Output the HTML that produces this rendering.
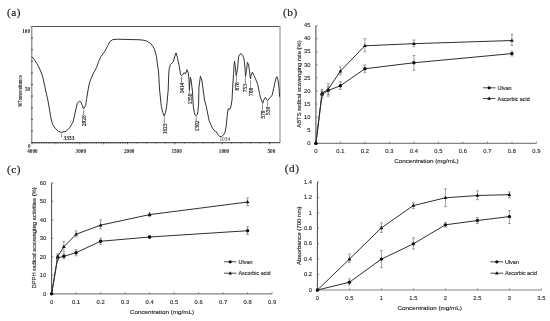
<!DOCTYPE html>
<html><head><meta charset="utf-8"><title>Figure</title>
<style>html,body{margin:0;padding:0;background:#fff;}body{width:550px;height:321px;overflow:hidden;}svg{display:block;}</style>
</head><body>
<svg width="550" height="321" viewBox="0 0 550 321">
<rect width="550" height="321" fill="#fff"/>
<text x="6.9" y="15.6" font-size="11.2" text-anchor="start" font-family="'Liberation Serif', 'Times New Roman', serif" fill="#222" stroke="#222" stroke-width="0.2" letter-spacing="0.6">(a)</text>
<text x="283" y="15.8" font-size="11.2" text-anchor="start" font-family="'Liberation Serif', 'Times New Roman', serif" fill="#222" stroke="#222" stroke-width="0.2" letter-spacing="0.6">(b)</text>
<text x="6.9" y="172.5" font-size="11.2" text-anchor="start" font-family="'Liberation Serif', 'Times New Roman', serif" fill="#222" stroke="#222" stroke-width="0.2" letter-spacing="0.6">(c)</text>
<text x="284.8" y="171.8" font-size="11.2" text-anchor="start" font-family="'Liberation Serif', 'Times New Roman', serif" fill="#222" stroke="#222" stroke-width="0.2" letter-spacing="0.6">(d)</text>
<path d="M30.5 26.5H280" stroke="#555" stroke-width="1.1" fill="none"/>
<path d="M280 26V143" stroke="#aaa" stroke-width="1.4" fill="none"/>
<path d="M31.7 26V143" stroke="#999" stroke-width="1.5" fill="none"/>
<path d="M31 142.6H280" stroke="#555" stroke-width="1.1" fill="none"/>
<path d="M31.2 38.1h1.8 M31.2 49.7h1.8 M31.2 61.3h1.8 M31.2 72.9h1.8 M31.2 84.5h1.8 M31.2 96.1h1.8 M31.2 107.7h1.8 M31.2 119.3h1.8 M31.2 130.9h1.8" stroke="#333" stroke-width="0.8" fill="none"/>
<path d="M32 142.6v1.7 M34.39 142.6v0.9 M36.78 142.6v0.9 M39.17 142.6v0.9 M41.56 142.6v0.9 M43.95 142.6v0.9 M46.34 142.6v0.9 M48.73 142.6v0.9 M51.12 142.6v0.9 M53.51 142.6v0.9 M55.9 142.6v1.7 M58.29 142.6v0.9 M60.68 142.6v0.9 M63.07 142.6v0.9 M65.46 142.6v0.9 M67.85 142.6v0.9 M70.24 142.6v0.9 M72.63 142.6v0.9 M75.02 142.6v0.9 M77.41 142.6v0.9 M79.8 142.6v1.7 M82.19 142.6v0.9 M84.58 142.6v0.9 M86.97 142.6v0.9 M89.36 142.6v0.9 M91.75 142.6v0.9 M94.14 142.6v0.9 M96.53 142.6v0.9 M98.92 142.6v0.9 M101.31 142.6v0.9 M103.7 142.6v1.7 M106.09 142.6v0.9 M108.48 142.6v0.9 M110.87 142.6v0.9 M113.26 142.6v0.9 M115.65 142.6v0.9 M118.04 142.6v0.9 M120.43 142.6v0.9 M122.82 142.6v0.9 M125.21 142.6v0.9 M127.6 142.6v1.7 M137.06 142.6v0.9 M146.52 142.6v0.9 M155.98 142.6v0.9 M165.44 142.6v0.9 M174.9 142.6v1.7 M184.36 142.6v0.9 M193.82 142.6v0.9 M203.28 142.6v0.9 M212.74 142.6v0.9 M222.2 142.6v1.7 M231.66 142.6v0.9 M241.12 142.6v0.9 M250.58 142.6v0.9 M260.04 142.6v0.9 M269.5 142.6v1.7" stroke="#333" stroke-width="0.8" fill="none"/>
<text x="30" y="32.8" font-size="5.2" text-anchor="end" font-family="'Liberation Serif', 'Times New Roman', serif" fill="#222" font-weight="bold" >100</text>
<text x="30.2" y="90.5" font-size="5.2" text-anchor="end" font-family="'Liberation Serif', 'Times New Roman', serif" fill="#222" font-weight="bold" >50</text>
<text x="30.6" y="148.4" font-size="5.2" text-anchor="end" font-family="'Liberation Serif', 'Times New Roman', serif" fill="#222" font-weight="bold" >0</text>
<text x="32.4" y="152.6" font-size="5.2" text-anchor="middle" font-family="'Liberation Serif', 'Times New Roman', serif" fill="#222" font-weight="bold" >4000</text>
<text x="80.8" y="152.6" font-size="5.2" text-anchor="middle" font-family="'Liberation Serif', 'Times New Roman', serif" fill="#222" font-weight="bold" >3000</text>
<text x="129.2" y="152.6" font-size="5.2" text-anchor="middle" font-family="'Liberation Serif', 'Times New Roman', serif" fill="#222" font-weight="bold" >2000</text>
<text x="176.6" y="152.6" font-size="5.2" text-anchor="middle" font-family="'Liberation Serif', 'Times New Roman', serif" fill="#222" font-weight="bold" >1500</text>
<text x="224" y="152.6" font-size="5.2" text-anchor="middle" font-family="'Liberation Serif', 'Times New Roman', serif" fill="#222" font-weight="bold" >1000</text>
<text x="271.4" y="152.6" font-size="5.2" text-anchor="middle" font-family="'Liberation Serif', 'Times New Roman', serif" fill="#222" font-weight="bold" >500</text>
<text x="22.1" y="90.9" font-size="4.6" text-anchor="middle" font-family="'Liberation Sans', Arial, sans-serif" fill="#222" stroke="#222" stroke-width="0.1" textLength="31.9" lengthAdjust="spacingAndGlyphs" transform="rotate(-90 22.1 90.9)" >%Transmittance</text>
<path d="M32 56.8 L34 59.2 L37 63.8 L40 69.5 L42.5 76 L44.3 84 L46 92 L48 101 L49.6 110 L51.3 120 L52.6 124.5 L55.1 128.2 L58.4 131.4 L61.6 132.4 L66 131.3 L69.8 127.5 L73 122 L75.2 112.5 L77.2 103.6 L78.3 101.8 L79.5 101.2 L80.8 101.8 L82.4 105.6 L83.5 109 L85.6 105.6 L86.7 98.5 L87.9 90.9 L89.2 84 L90.6 79.5 L93.5 73 L96.5 67.6 L98.6 61.5 L101 56.5 L105.2 50.7 L107.9 45.3 L110 41.5 L112.8 39.6 L118 39.2 L128 39.5 L138 39.7 L143 40.1 L146.5 40.9 L150.9 43.6 L154.2 48.5 L156.4 56.2 L157.5 65 L158.5 71 L159.6 90 L161.3 106.4 L162.8 112.5 L164.2 116.2 L165.5 112.5 L166.7 106.4 L168.2 90 L168.7 75 L169.2 68.5 L170.5 64.4 L173.3 61.6 L174.6 57 L176 52.9 L177.4 57.5 L178.3 62 L179.3 66.5 L180.5 74.3 L181.5 75.9 L184.3 72.6 L185.4 74 L187 69.6 L188.4 73.2 L189 80 L189.4 90.5 L189.8 84 L190.5 77.4 L191.4 82 L192.5 92 L193.3 106.5 L194.3 112.8 L195.3 115.2 L196.4 115.5 L197.3 114.5 L197.9 111.5 L198.6 104 L198.9 88 L200.4 76.2 L201.8 80 L203.2 90 L204.5 100 L206.4 107 L209.1 120.7 L211.8 127 L214.2 130.6 L215.3 131.2 L216.3 131.6 L217.8 134.4 L219.6 136.4 L221.5 136.5 L223.2 135.3 L224.9 132.8 L226.2 126 L227.4 114 L228.2 108.7 L229.8 109.3 L230.9 106.5 L232 100 L232.8 85 L233.6 73.3 L234 66 L234.5 61.2 L235.4 67.3 L236.2 75.5 L237.5 69.5 L238.1 62 L238.6 56.8 L239.6 54.6 L241.1 53.5 L242.7 55.5 L243.8 58.2 L244.4 62 L244.9 67 L245.5 76.5 L246.5 70.5 L247.4 62.3 L248.7 65 L249.6 72 L250.4 79 L251.2 75 L252.3 72.2 L254 75.5 L256.4 81 L257.8 84.5 L259.5 93.5 L261 99 L262.7 103.4 L264.2 99 L265.5 97.4 L266.6 99.5 L267.6 100.6 L269.5 98 L272 95.7 L273.6 89 L274.7 83.7 L276 78 L276.9 76.6 L278 80 L279 88 L279.6 96.8" stroke="#333" stroke-width="1" fill="none" stroke-linejoin="round"/>
<path d="M61.6 133.4V137.8 M83.6 110.2V115.5 M164.3 117.2V123.6 M181.5 76.8V82.8 M189.5 91.2V93.8 M196.2 116.2V121 M236.4 76V82 M245.4 77.5V84.2 M250.6 80.2V88 M262.5 104.2V110.4 M267.6 101.4V106.6" stroke="#444" stroke-width="0.6" fill="none"/>
<text x="63.6" y="139.9" font-size="5.4" text-anchor="start" font-family="'Liberation Serif', 'Times New Roman', serif" fill="#000" font-weight="bold" >3353</text>
<text x="219.4" y="141.4" font-size="5.4" text-anchor="start" font-family="'Liberation Serif', 'Times New Roman', serif" fill="#333" >1034</text>
<text x="85.8" y="120.8" font-size="5.4" text-anchor="middle" font-family="'Liberation Serif', 'Times New Roman', serif" fill="#111" stroke="#111" stroke-width="0.15" transform="rotate(-90 85.8 120.8)" >2926</text>
<text x="166.7" y="128.9" font-size="5.4" text-anchor="middle" font-family="'Liberation Serif', 'Times New Roman', serif" fill="#111" stroke="#111" stroke-width="0.15" transform="rotate(-90 166.7 128.9)" >1623</text>
<text x="183.7" y="88.1" font-size="5.4" text-anchor="middle" font-family="'Liberation Serif', 'Times New Roman', serif" fill="#111" stroke="#111" stroke-width="0.15" transform="rotate(-90 183.7 88.1)" >1414</text>
<text x="191.8" y="99" font-size="5.4" text-anchor="middle" font-family="'Liberation Serif', 'Times New Roman', serif" fill="#111" stroke="#111" stroke-width="0.15" transform="rotate(-90 191.8 99)" >1356</text>
<text x="198.8" y="126.1" font-size="5.4" text-anchor="middle" font-family="'Liberation Serif', 'Times New Roman', serif" fill="#111" stroke="#111" stroke-width="0.15" transform="rotate(-90 198.8 126.1)" >1302</text>
<text x="238.7" y="86.4" font-size="5.4" text-anchor="middle" font-family="'Liberation Serif', 'Times New Roman', serif" fill="#111" stroke="#111" stroke-width="0.15" transform="rotate(-90 238.7 86.4)" >878</text>
<text x="247.5" y="88.1" font-size="5.4" text-anchor="middle" font-family="'Liberation Serif', 'Times New Roman', serif" fill="#111" stroke="#111" stroke-width="0.15" transform="rotate(-90 247.5 88.1)" >753</text>
<text x="252.9" y="91.9" font-size="5.4" text-anchor="middle" font-family="'Liberation Serif', 'Times New Roman', serif" fill="#111" stroke="#111" stroke-width="0.15" transform="rotate(-90 252.9 91.9)" >708</text>
<text x="264.5" y="114.5" font-size="5.4" text-anchor="middle" font-family="'Liberation Serif', 'Times New Roman', serif" fill="#111" stroke="#111" stroke-width="0.15" transform="rotate(-90 264.5 114.5)" >579</text>
<text x="269.9" y="110.9" font-size="5.4" text-anchor="middle" font-family="'Liberation Serif', 'Times New Roman', serif" fill="#111" stroke="#111" stroke-width="0.15" transform="rotate(-90 269.9 110.9)" >530</text>
<path d="M315.9 143.3H536.4" stroke="#858585" stroke-width="1.2" fill="none"/>
<path d="M315.9 25.62V143.3" stroke="#484848" stroke-width="1" fill="none"/>
<path d="M315.9 143.3h1.6 M315.9 130.23h1.6 M315.9 117.15h1.6 M315.9 104.08h1.6 M315.9 91h1.6 M315.9 77.93h1.6 M315.9 64.85h1.6 M315.9 51.78h1.6 M315.9 38.7h1.6 M315.9 25.62h1.6 M315.9 143.3v-1.6 M340.4 143.3v-1.6 M364.9 143.3v-1.6 M389.4 143.3v-1.6 M413.9 143.3v-1.6 M438.4 143.3v-1.6 M462.9 143.3v-1.6 M487.4 143.3v-1.6 M511.9 143.3v-1.6 M536.4 143.3v-1.6" stroke="#666" stroke-width="0.8" fill="none"/>
<text x="310.5" y="145" font-size="5.8" text-anchor="end" font-family="'Liberation Sans', Arial, sans-serif" fill="#2a2a2a" stroke="#2a2a2a" stroke-width="0.12" >0</text>
<text x="310.5" y="131.93" font-size="5.8" text-anchor="end" font-family="'Liberation Sans', Arial, sans-serif" fill="#2a2a2a" stroke="#2a2a2a" stroke-width="0.12" >5</text>
<text x="310.5" y="118.85" font-size="5.8" text-anchor="end" font-family="'Liberation Sans', Arial, sans-serif" fill="#2a2a2a" stroke="#2a2a2a" stroke-width="0.12" >10</text>
<text x="310.5" y="105.78" font-size="5.8" text-anchor="end" font-family="'Liberation Sans', Arial, sans-serif" fill="#2a2a2a" stroke="#2a2a2a" stroke-width="0.12" >15</text>
<text x="310.5" y="92.7" font-size="5.8" text-anchor="end" font-family="'Liberation Sans', Arial, sans-serif" fill="#2a2a2a" stroke="#2a2a2a" stroke-width="0.12" >20</text>
<text x="310.5" y="79.63" font-size="5.8" text-anchor="end" font-family="'Liberation Sans', Arial, sans-serif" fill="#2a2a2a" stroke="#2a2a2a" stroke-width="0.12" >25</text>
<text x="310.5" y="66.55" font-size="5.8" text-anchor="end" font-family="'Liberation Sans', Arial, sans-serif" fill="#2a2a2a" stroke="#2a2a2a" stroke-width="0.12" >30</text>
<text x="310.5" y="53.48" font-size="5.8" text-anchor="end" font-family="'Liberation Sans', Arial, sans-serif" fill="#2a2a2a" stroke="#2a2a2a" stroke-width="0.12" >35</text>
<text x="310.5" y="40.4" font-size="5.8" text-anchor="end" font-family="'Liberation Sans', Arial, sans-serif" fill="#2a2a2a" stroke="#2a2a2a" stroke-width="0.12" >40</text>
<text x="310.5" y="27.32" font-size="5.8" text-anchor="end" font-family="'Liberation Sans', Arial, sans-serif" fill="#2a2a2a" stroke="#2a2a2a" stroke-width="0.12" >45</text>
<text x="315.9" y="153.1" font-size="5.8" text-anchor="middle" font-family="'Liberation Sans', Arial, sans-serif" fill="#2a2a2a" stroke="#2a2a2a" stroke-width="0.12" >0</text>
<text x="340.4" y="153.1" font-size="5.8" text-anchor="middle" font-family="'Liberation Sans', Arial, sans-serif" fill="#2a2a2a" stroke="#2a2a2a" stroke-width="0.12" >0.1</text>
<text x="364.9" y="153.1" font-size="5.8" text-anchor="middle" font-family="'Liberation Sans', Arial, sans-serif" fill="#2a2a2a" stroke="#2a2a2a" stroke-width="0.12" >0.2</text>
<text x="389.4" y="153.1" font-size="5.8" text-anchor="middle" font-family="'Liberation Sans', Arial, sans-serif" fill="#2a2a2a" stroke="#2a2a2a" stroke-width="0.12" >0.3</text>
<text x="413.9" y="153.1" font-size="5.8" text-anchor="middle" font-family="'Liberation Sans', Arial, sans-serif" fill="#2a2a2a" stroke="#2a2a2a" stroke-width="0.12" >0.4</text>
<text x="438.4" y="153.1" font-size="5.8" text-anchor="middle" font-family="'Liberation Sans', Arial, sans-serif" fill="#2a2a2a" stroke="#2a2a2a" stroke-width="0.12" >0.5</text>
<text x="462.9" y="153.1" font-size="5.8" text-anchor="middle" font-family="'Liberation Sans', Arial, sans-serif" fill="#2a2a2a" stroke="#2a2a2a" stroke-width="0.12" >0.6</text>
<text x="487.4" y="153.1" font-size="5.8" text-anchor="middle" font-family="'Liberation Sans', Arial, sans-serif" fill="#2a2a2a" stroke="#2a2a2a" stroke-width="0.12" >0.7</text>
<text x="511.9" y="153.1" font-size="5.8" text-anchor="middle" font-family="'Liberation Sans', Arial, sans-serif" fill="#2a2a2a" stroke="#2a2a2a" stroke-width="0.12" >0.8</text>
<text x="536.4" y="153.1" font-size="5.8" text-anchor="middle" font-family="'Liberation Sans', Arial, sans-serif" fill="#2a2a2a" stroke="#2a2a2a" stroke-width="0.12" >0.9</text>
<text x="300.7" y="84" font-size="5.9" text-anchor="middle" font-family="'Liberation Sans', Arial, sans-serif" fill="#222" stroke="#222" stroke-width="0.12" textLength="87.3" lengthAdjust="spacingAndGlyphs" transform="rotate(-90 300.7 84)" >ABTS radical scavenging rate (%)</text>
<text x="426.4" y="163.1" font-size="6.1" text-anchor="middle" font-family="'Liberation Sans', Arial, sans-serif" fill="#222" stroke="#222" stroke-width="0.12" textLength="64.3" lengthAdjust="spacingAndGlyphs" >Concentration (mg/mL)</text>
<path d="M315.9 143.3 L322.02 94.66 L328.15 90.48 L340.4 85.77 L364.9 68.77 L413.9 62.76 L511.9 53.61" stroke="#2e2e2e" stroke-width="1" fill="none" stroke-linejoin="round"/>
<path d="M322.02 98.32V91M320.62 98.32h2.8M320.62 91h2.8 M328.15 94.66V83.68M326.75 94.66h2.8M326.75 83.68h2.8 M340.4 89.43V81.59M339 89.43h2.8M339 81.59h2.8 M364.9 72.43V64.85M363.5 72.43h2.8M363.5 64.85h2.8 M413.9 70.34V55.44M412.5 70.34h2.8M412.5 55.44h2.8 M511.9 55.96V51.25M510.5 55.96h2.8M510.5 51.25h2.8" stroke="#777" stroke-width="0.7" fill="none"/>
<circle cx="315.9" cy="143.3" r="1.7" fill="#0a0a0a"/>
<circle cx="322.02" cy="94.66" r="1.7" fill="#0a0a0a"/>
<circle cx="328.15" cy="90.48" r="1.7" fill="#0a0a0a"/>
<circle cx="340.4" cy="85.77" r="1.7" fill="#0a0a0a"/>
<circle cx="364.9" cy="68.77" r="1.7" fill="#0a0a0a"/>
<circle cx="413.9" cy="62.76" r="1.7" fill="#0a0a0a"/>
<circle cx="511.9" cy="53.61" r="1.7" fill="#0a0a0a"/>
<path d="M315.9 143.3 L322.02 93.09 L328.15 89.43 L340.4 71.13 L364.9 45.76 L413.9 43.67 L511.9 40.53" stroke="#2e2e2e" stroke-width="1" fill="none" stroke-linejoin="round"/>
<path d="M322.02 96.75V89.43M320.62 96.75h2.8M320.62 89.43h2.8 M328.15 96.23V86.82M326.75 96.23h2.8M326.75 86.82h2.8 M340.4 74.79V66.94M339 74.79h2.8M339 66.94h2.8 M364.9 51.78V38.7M363.5 51.78h2.8M363.5 38.7h2.8 M413.9 46.81V40.01M412.5 46.81h2.8M412.5 40.01h2.8 M511.9 45.5V34.25M510.5 45.5h2.8M510.5 34.25h2.8" stroke="#777" stroke-width="0.7" fill="none"/>
<path d="M315.9 141.3L317.8 144.6H314Z" fill="#111"/>
<path d="M322.02 91.09L323.92 94.39H320.12Z" fill="#111"/>
<path d="M328.15 87.43L330.05 90.73H326.25Z" fill="#111"/>
<path d="M340.4 69.13L342.3 72.43H338.5Z" fill="#111"/>
<path d="M364.9 43.76L366.8 47.06H363Z" fill="#111"/>
<path d="M413.9 41.67L415.8 44.97H412Z" fill="#111"/>
<path d="M511.9 38.53L513.8 41.83H510Z" fill="#111"/>
<path d="M482.8 87.8H495.5" stroke="#3a3a3a" stroke-width="0.9"/>
<circle cx="489.15" cy="87.8" r="1.6" fill="#0a0a0a"/>
<text x="497.6" y="89.8" font-size="5.6" text-anchor="start" font-family="'Liberation Sans', Arial, sans-serif" fill="#222" stroke="#222" stroke-width="0.12" textLength="14.1" lengthAdjust="spacingAndGlyphs" >Ulvan</text>
<path d="M482.8 98.5H495.5" stroke="#3a3a3a" stroke-width="0.9"/>
<path d="M489.15 96.6L490.95 99.7H487.35Z" fill="#0a0a0a"/>
<text x="497.6" y="100.5" font-size="5.6" text-anchor="start" font-family="'Liberation Sans', Arial, sans-serif" fill="#222" stroke="#222" stroke-width="0.12" textLength="32.1" lengthAdjust="spacingAndGlyphs" >Ascorbic acid</text>
<path d="M51.6 293.8H272.1" stroke="#858585" stroke-width="1.2" fill="none"/>
<path d="M51.6 182.8V293.8" stroke="#484848" stroke-width="1" fill="none"/>
<path d="M51.6 293.8h1.6 M51.6 275.3h1.6 M51.6 256.8h1.6 M51.6 238.3h1.6 M51.6 219.8h1.6 M51.6 201.3h1.6 M51.6 182.8h1.6 M51.6 293.8v-1.6 M76.1 293.8v-1.6 M100.6 293.8v-1.6 M125.1 293.8v-1.6 M149.6 293.8v-1.6 M174.1 293.8v-1.6 M198.6 293.8v-1.6 M223.1 293.8v-1.6 M247.6 293.8v-1.6 M272.1 293.8v-1.6" stroke="#666" stroke-width="0.8" fill="none"/>
<text x="46.2" y="295.5" font-size="5.8" text-anchor="end" font-family="'Liberation Sans', Arial, sans-serif" fill="#2a2a2a" stroke="#2a2a2a" stroke-width="0.12" >0</text>
<text x="46.2" y="277" font-size="5.8" text-anchor="end" font-family="'Liberation Sans', Arial, sans-serif" fill="#2a2a2a" stroke="#2a2a2a" stroke-width="0.12" >10</text>
<text x="46.2" y="258.5" font-size="5.8" text-anchor="end" font-family="'Liberation Sans', Arial, sans-serif" fill="#2a2a2a" stroke="#2a2a2a" stroke-width="0.12" >20</text>
<text x="46.2" y="240" font-size="5.8" text-anchor="end" font-family="'Liberation Sans', Arial, sans-serif" fill="#2a2a2a" stroke="#2a2a2a" stroke-width="0.12" >30</text>
<text x="46.2" y="221.5" font-size="5.8" text-anchor="end" font-family="'Liberation Sans', Arial, sans-serif" fill="#2a2a2a" stroke="#2a2a2a" stroke-width="0.12" >40</text>
<text x="46.2" y="203" font-size="5.8" text-anchor="end" font-family="'Liberation Sans', Arial, sans-serif" fill="#2a2a2a" stroke="#2a2a2a" stroke-width="0.12" >50</text>
<text x="46.2" y="184.5" font-size="5.8" text-anchor="end" font-family="'Liberation Sans', Arial, sans-serif" fill="#2a2a2a" stroke="#2a2a2a" stroke-width="0.12" >60</text>
<text x="51.6" y="303.6" font-size="5.8" text-anchor="middle" font-family="'Liberation Sans', Arial, sans-serif" fill="#2a2a2a" stroke="#2a2a2a" stroke-width="0.12" >0</text>
<text x="76.1" y="303.6" font-size="5.8" text-anchor="middle" font-family="'Liberation Sans', Arial, sans-serif" fill="#2a2a2a" stroke="#2a2a2a" stroke-width="0.12" >0.1</text>
<text x="100.6" y="303.6" font-size="5.8" text-anchor="middle" font-family="'Liberation Sans', Arial, sans-serif" fill="#2a2a2a" stroke="#2a2a2a" stroke-width="0.12" >0.2</text>
<text x="125.1" y="303.6" font-size="5.8" text-anchor="middle" font-family="'Liberation Sans', Arial, sans-serif" fill="#2a2a2a" stroke="#2a2a2a" stroke-width="0.12" >0.3</text>
<text x="149.6" y="303.6" font-size="5.8" text-anchor="middle" font-family="'Liberation Sans', Arial, sans-serif" fill="#2a2a2a" stroke="#2a2a2a" stroke-width="0.12" >0.4</text>
<text x="174.1" y="303.6" font-size="5.8" text-anchor="middle" font-family="'Liberation Sans', Arial, sans-serif" fill="#2a2a2a" stroke="#2a2a2a" stroke-width="0.12" >0.5</text>
<text x="198.6" y="303.6" font-size="5.8" text-anchor="middle" font-family="'Liberation Sans', Arial, sans-serif" fill="#2a2a2a" stroke="#2a2a2a" stroke-width="0.12" >0.6</text>
<text x="223.1" y="303.6" font-size="5.8" text-anchor="middle" font-family="'Liberation Sans', Arial, sans-serif" fill="#2a2a2a" stroke="#2a2a2a" stroke-width="0.12" >0.7</text>
<text x="247.6" y="303.6" font-size="5.8" text-anchor="middle" font-family="'Liberation Sans', Arial, sans-serif" fill="#2a2a2a" stroke="#2a2a2a" stroke-width="0.12" >0.8</text>
<text x="272.1" y="303.6" font-size="5.8" text-anchor="middle" font-family="'Liberation Sans', Arial, sans-serif" fill="#2a2a2a" stroke="#2a2a2a" stroke-width="0.12" >0.9</text>
<text x="36.1" y="237.9" font-size="5.9" text-anchor="middle" font-family="'Liberation Sans', Arial, sans-serif" fill="#222" stroke="#222" stroke-width="0.12" textLength="101.4" lengthAdjust="spacingAndGlyphs" transform="rotate(-90 36.1 237.9)" >DPPH radical scavenging activities (%)</text>
<text x="162" y="313.5" font-size="6.1" text-anchor="middle" font-family="'Liberation Sans', Arial, sans-serif" fill="#222" stroke="#222" stroke-width="0.12" textLength="64.3" lengthAdjust="spacingAndGlyphs" >Concentration (mg/mL)</text>
<path d="M51.6 293.8 L57.73 257.91 L63.85 256.25 L76.1 252.73 L100.6 241.26 L149.6 237 L247.6 230.72" stroke="#2e2e2e" stroke-width="1" fill="none" stroke-linejoin="round"/>
<path d="M57.73 260.5V255.32M56.33 260.5h2.8M56.33 255.32h2.8 M63.85 258.84V253.66M62.45 258.84h2.8M62.45 253.66h2.8 M76.1 255.88V249.59M74.7 255.88h2.8M74.7 249.59h2.8 M100.6 244.22V238.3M99.2 244.22h2.8M99.2 238.3h2.8 M149.6 238.3V235.71M148.2 238.3h2.8M148.2 235.71h2.8 M247.6 234.42V226.65M246.2 234.42h2.8M246.2 226.65h2.8" stroke="#777" stroke-width="0.7" fill="none"/>
<circle cx="51.6" cy="293.8" r="1.7" fill="#0a0a0a"/>
<circle cx="57.73" cy="257.91" r="1.7" fill="#0a0a0a"/>
<circle cx="63.85" cy="256.25" r="1.7" fill="#0a0a0a"/>
<circle cx="76.1" cy="252.73" r="1.7" fill="#0a0a0a"/>
<circle cx="100.6" cy="241.26" r="1.7" fill="#0a0a0a"/>
<circle cx="149.6" cy="237" r="1.7" fill="#0a0a0a"/>
<circle cx="247.6" cy="230.72" r="1.7" fill="#0a0a0a"/>
<path d="M51.6 293.8 L57.73 256.43 L63.85 246.81 L76.1 234.23 L100.6 225.17 L149.6 214.62 L247.6 202.04" stroke="#2e2e2e" stroke-width="1" fill="none" stroke-linejoin="round"/>
<path d="M57.73 259.02V253.84M56.33 259.02h2.8M56.33 253.84h2.8 M63.85 251.81V241.44M62.45 251.81h2.8M62.45 241.44h2.8 M76.1 236.82V230.9M74.7 236.82h2.8M74.7 230.9h2.8 M100.6 228.87V219.8M99.2 228.87h2.8M99.2 219.8h2.8 M149.6 216.47V212.77M148.2 216.47h2.8M148.2 212.77h2.8 M247.6 205.56V197.97M246.2 205.56h2.8M246.2 197.97h2.8" stroke="#777" stroke-width="0.7" fill="none"/>
<path d="M51.6 291.8L53.5 295.1H49.7Z" fill="#111"/>
<path d="M57.73 254.43L59.62 257.73H55.83Z" fill="#111"/>
<path d="M63.85 244.81L65.75 248.11H61.95Z" fill="#111"/>
<path d="M76.1 232.23L78 235.53H74.2Z" fill="#111"/>
<path d="M100.6 223.17L102.5 226.47H98.7Z" fill="#111"/>
<path d="M149.6 212.62L151.5 215.92H147.7Z" fill="#111"/>
<path d="M247.6 200.04L249.5 203.34H245.7Z" fill="#111"/>
<path d="M224 261.8H236.4" stroke="#3a3a3a" stroke-width="0.9"/>
<circle cx="230.2" cy="261.8" r="1.6" fill="#0a0a0a"/>
<text x="238.5" y="263.8" font-size="5.6" text-anchor="start" font-family="'Liberation Sans', Arial, sans-serif" fill="#222" stroke="#222" stroke-width="0.12" textLength="14.1" lengthAdjust="spacingAndGlyphs" >Ulvan</text>
<path d="M224 273.2H236.4" stroke="#3a3a3a" stroke-width="0.9"/>
<path d="M230.2 271.3L232 274.4H228.4Z" fill="#0a0a0a"/>
<text x="238.5" y="275.2" font-size="5.6" text-anchor="start" font-family="'Liberation Sans', Arial, sans-serif" fill="#222" stroke="#222" stroke-width="0.12" textLength="32.1" lengthAdjust="spacingAndGlyphs" >Ascorbic acid</text>
<path d="M317.4 290H541.4" stroke="#858585" stroke-width="1.2" fill="none"/>
<path d="M317.4 181.92V290" stroke="#484848" stroke-width="1" fill="none"/>
<path d="M317.4 290h1.6 M317.4 274.56h1.6 M317.4 259.12h1.6 M317.4 243.68h1.6 M317.4 228.24h1.6 M317.4 212.8h1.6 M317.4 197.36h1.6 M317.4 181.92h1.6 M317.4 290v-1.6 M349.4 290v-1.6 M381.4 290v-1.6 M413.4 290v-1.6 M445.4 290v-1.6 M477.4 290v-1.6 M509.4 290v-1.6 M541.4 290v-1.6" stroke="#666" stroke-width="0.8" fill="none"/>
<text x="312" y="291.7" font-size="5.8" text-anchor="end" font-family="'Liberation Sans', Arial, sans-serif" fill="#2a2a2a" stroke="#2a2a2a" stroke-width="0.12" >0</text>
<text x="312" y="276.26" font-size="5.8" text-anchor="end" font-family="'Liberation Sans', Arial, sans-serif" fill="#2a2a2a" stroke="#2a2a2a" stroke-width="0.12" >0.2</text>
<text x="312" y="260.82" font-size="5.8" text-anchor="end" font-family="'Liberation Sans', Arial, sans-serif" fill="#2a2a2a" stroke="#2a2a2a" stroke-width="0.12" >0.4</text>
<text x="312" y="245.38" font-size="5.8" text-anchor="end" font-family="'Liberation Sans', Arial, sans-serif" fill="#2a2a2a" stroke="#2a2a2a" stroke-width="0.12" >0.6</text>
<text x="312" y="229.94" font-size="5.8" text-anchor="end" font-family="'Liberation Sans', Arial, sans-serif" fill="#2a2a2a" stroke="#2a2a2a" stroke-width="0.12" >0.8</text>
<text x="312" y="214.5" font-size="5.8" text-anchor="end" font-family="'Liberation Sans', Arial, sans-serif" fill="#2a2a2a" stroke="#2a2a2a" stroke-width="0.12" >1</text>
<text x="312" y="199.06" font-size="5.8" text-anchor="end" font-family="'Liberation Sans', Arial, sans-serif" fill="#2a2a2a" stroke="#2a2a2a" stroke-width="0.12" >1.2</text>
<text x="312" y="183.62" font-size="5.8" text-anchor="end" font-family="'Liberation Sans', Arial, sans-serif" fill="#2a2a2a" stroke="#2a2a2a" stroke-width="0.12" >1.4</text>
<text x="317.4" y="299.8" font-size="5.8" text-anchor="middle" font-family="'Liberation Sans', Arial, sans-serif" fill="#2a2a2a" stroke="#2a2a2a" stroke-width="0.12" >0</text>
<text x="349.4" y="299.8" font-size="5.8" text-anchor="middle" font-family="'Liberation Sans', Arial, sans-serif" fill="#2a2a2a" stroke="#2a2a2a" stroke-width="0.12" >0.5</text>
<text x="381.4" y="299.8" font-size="5.8" text-anchor="middle" font-family="'Liberation Sans', Arial, sans-serif" fill="#2a2a2a" stroke="#2a2a2a" stroke-width="0.12" >1</text>
<text x="413.4" y="299.8" font-size="5.8" text-anchor="middle" font-family="'Liberation Sans', Arial, sans-serif" fill="#2a2a2a" stroke="#2a2a2a" stroke-width="0.12" >1.5</text>
<text x="445.4" y="299.8" font-size="5.8" text-anchor="middle" font-family="'Liberation Sans', Arial, sans-serif" fill="#2a2a2a" stroke="#2a2a2a" stroke-width="0.12" >2</text>
<text x="477.4" y="299.8" font-size="5.8" text-anchor="middle" font-family="'Liberation Sans', Arial, sans-serif" fill="#2a2a2a" stroke="#2a2a2a" stroke-width="0.12" >2.5</text>
<text x="509.4" y="299.8" font-size="5.8" text-anchor="middle" font-family="'Liberation Sans', Arial, sans-serif" fill="#2a2a2a" stroke="#2a2a2a" stroke-width="0.12" >3</text>
<text x="541.4" y="299.8" font-size="5.8" text-anchor="middle" font-family="'Liberation Sans', Arial, sans-serif" fill="#2a2a2a" stroke="#2a2a2a" stroke-width="0.12" >3.5</text>
<text x="300.8" y="235.7" font-size="5.9" text-anchor="middle" font-family="'Liberation Sans', Arial, sans-serif" fill="#222" stroke="#222" stroke-width="0.12" textLength="58.6" lengthAdjust="spacingAndGlyphs" transform="rotate(-90 300.8 235.7)" >Absorbance (700 nm)</text>
<text x="429.7" y="309.9" font-size="6.1" text-anchor="middle" font-family="'Liberation Sans', Arial, sans-serif" fill="#222" stroke="#222" stroke-width="0.12" textLength="64.3" lengthAdjust="spacingAndGlyphs" >Concentration (mg/mL)</text>
<path d="M317.4 290 L349.4 282.28 L381.4 259.12 L413.4 243.83 L445.4 224.84 L477.4 220.52 L509.4 216.58" stroke="#2e2e2e" stroke-width="1" fill="none" stroke-linejoin="round"/>
<path d="M349.4 284.98V278.81M348 284.98h2.8M348 278.81h2.8 M381.4 267.61V250.63M380 267.61h2.8M380 250.63h2.8 M413.4 249.08V237.89M412 249.08h2.8M412 237.89h2.8 M445.4 227.08V222.45M444 227.08h2.8M444 222.45h2.8 M477.4 223.61V217.43M476 223.61h2.8M476 217.43h2.8 M509.4 223.61V210.48M508 223.61h2.8M508 210.48h2.8" stroke="#777" stroke-width="0.7" fill="none"/>
<circle cx="317.4" cy="290" r="1.7" fill="#0a0a0a"/>
<circle cx="349.4" cy="282.28" r="1.7" fill="#0a0a0a"/>
<circle cx="381.4" cy="259.12" r="1.7" fill="#0a0a0a"/>
<circle cx="413.4" cy="243.83" r="1.7" fill="#0a0a0a"/>
<circle cx="445.4" cy="224.84" r="1.7" fill="#0a0a0a"/>
<circle cx="477.4" cy="220.52" r="1.7" fill="#0a0a0a"/>
<circle cx="509.4" cy="216.58" r="1.7" fill="#0a0a0a"/>
<path d="M317.4 290 L349.4 259.12 L381.4 227.85 L413.4 205.54 L445.4 197.82 L477.4 195.51 L509.4 194.66" stroke="#2e2e2e" stroke-width="1" fill="none" stroke-linejoin="round"/>
<path d="M349.4 262.59V254.1M348 262.59h2.8M348 254.1h2.8 M381.4 232.49V222.84M380 232.49h2.8M380 222.84h2.8 M413.4 208.55V202.76M412 208.55h2.8M412 202.76h2.8 M445.4 206.62V188.87M444 206.62h2.8M444 188.87h2.8 M477.4 199.68V190.8M476 199.68h2.8M476 190.8h2.8 M509.4 197.36V191.96M508 197.36h2.8M508 191.96h2.8" stroke="#777" stroke-width="0.7" fill="none"/>
<path d="M317.4 288L319.3 291.3H315.5Z" fill="#111"/>
<path d="M349.4 257.12L351.3 260.42H347.5Z" fill="#111"/>
<path d="M381.4 225.85L383.3 229.15H379.5Z" fill="#111"/>
<path d="M413.4 203.54L415.3 206.84H411.5Z" fill="#111"/>
<path d="M445.4 195.82L447.3 199.12H443.5Z" fill="#111"/>
<path d="M477.4 193.51L479.3 196.81H475.5Z" fill="#111"/>
<path d="M509.4 192.66L511.3 195.96H507.5Z" fill="#111"/>
<path d="M490.4 261.8H503.2" stroke="#3a3a3a" stroke-width="0.9"/>
<circle cx="496.8" cy="261.8" r="1.6" fill="#0a0a0a"/>
<text x="504.9" y="263.8" font-size="5.6" text-anchor="start" font-family="'Liberation Sans', Arial, sans-serif" fill="#222" stroke="#222" stroke-width="0.12" textLength="14.1" lengthAdjust="spacingAndGlyphs" >Ulvan</text>
<path d="M490.4 273.2H503.2" stroke="#3a3a3a" stroke-width="0.9"/>
<path d="M496.8 271.3L498.6 274.4H495Z" fill="#0a0a0a"/>
<text x="504.9" y="275.2" font-size="5.6" text-anchor="start" font-family="'Liberation Sans', Arial, sans-serif" fill="#222" stroke="#222" stroke-width="0.12" textLength="32.1" lengthAdjust="spacingAndGlyphs" >Ascorbic acid</text>
</svg>
</body></html>
